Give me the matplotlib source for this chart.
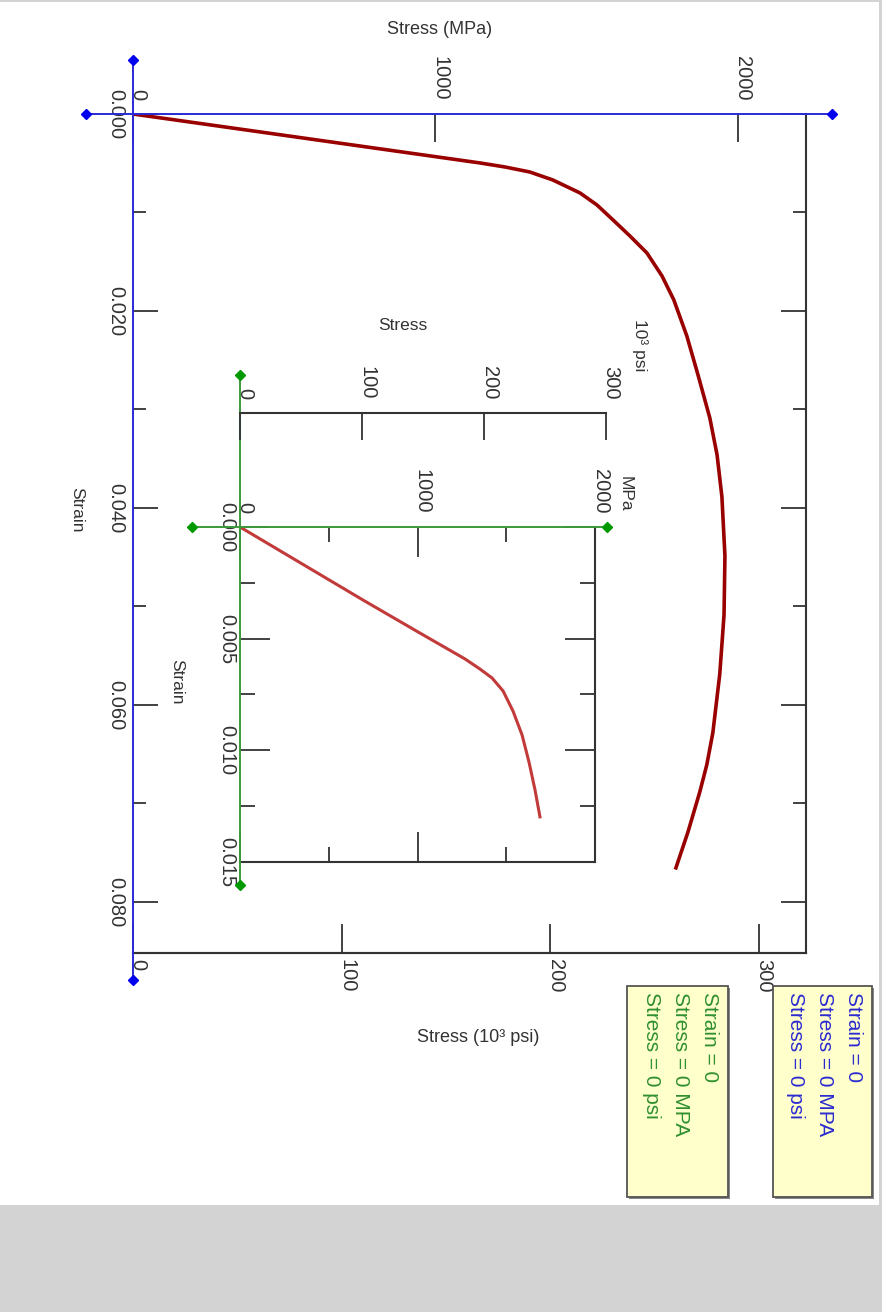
import matplotlib.pyplot as plt
from matplotlib import ticker, transforms
from matplotlib.patches import Rectangle

plt.rcParams['font.family'] = ['Liberation Sans', 'DejaVu Sans']

# full test: strain vs stress (MPa)
strain = [0.0, 0.00497, 0.00538, 0.00589, 0.00670, 0.00802, 0.00924, 0.01076,
          0.01239, 0.01411, 0.01645, 0.01888, 0.02254, 0.02650, 0.03086,
          0.03462, 0.03888, 0.04487, 0.05086, 0.05685, 0.06284, 0.06609,
          0.06883, 0.07289, 0.07655]
stress_mpa = [0, 1147, 1230, 1312, 1388, 1478, 1534, 1587,
              1643, 1699, 1749, 1788, 1831, 1868, 1907,
              1931, 1947, 1957, 1954, 1940, 1917, 1897,
              1874, 1835, 1795]

# zoomed view of the start of the test
strain_small = [0.0, 0.00327, 0.00475, 0.00591, 0.00636, 0.00676, 0.00734,
                0.00824, 0.00931, 0.01052, 0.01177, 0.01298]
stress_small = [0, 693, 1014, 1268, 1352, 1420, 1482,
                1538, 1589, 1628, 1662, 1690]

strain_ticks = [0.0, 0.02, 0.04, 0.06, 0.08]
strain_ticks_small = [0.0, 0.005, 0.010, 0.015]
mpa_ticks = [0, 1000, 2000]
mpa_minor_small = [500, 1500]
psi_ticks = [0, 100, 200, 300]

# cursor readouts
cursor_strain = 0.0
cursor_stress = 0.0
readout = ['Strain = 0', 'Stress = 0 MPA', 'Stress = 0 psi']

MPA_PER_KSI = 6.894757
W, H = 882, 1312
INK = '#333333'
PT = 0.72  # points per pixel at 100 dpi


def rect(x0, y0, x1, y1):
    # pixel box, origin top-left -> figure fraction
    return [x0 / W, 1 - y1 / H, (x1 - x0) / W, (y1 - y0) / H]


def px(x, y):
    return x / W, 1 - y / H


fig = plt.figure(figsize=(W / 100, H / 100), dpi=100, facecolor='#d3d3d3')
fig.patches.append(Rectangle(px(0, 1205), 879 / W, 1203 / H, transform=fig.transFigure,
                             fc='white', ec='none', zorder=-5))

# ---------------- main chart ----------------
ax = fig.add_axes(rect(133, 114, 806, 953))
ax.set_xlim(0, 2225)
ax.set_ylim(0.0852, 0)
ax.plot(stress_mpa, strain, color='#990000', lw=2.6, zorder=3)

for s in ['top', 'left']:
    ax.spines[s].set_visible(False)
for s in ['right', 'bottom']:
    ax.spines[s].set_color(INK)
    ax.spines[s].set_linewidth(1.5)

ax.xaxis.tick_top()
ax.set_xticks(mpa_ticks)
ax.tick_params(axis='x', direction='in', length=28 * PT, width=1.3, color=INK,
               top=True, bottom=False, labeltop=True, labelbottom=False,
               labelrotation=-90, labelsize=14.5, labelcolor=INK, pad=10)
ax.set_yticks(strain_ticks)
ax.yaxis.set_minor_locator(ticker.MultipleLocator(0.01))
ax.yaxis.set_major_formatter(ticker.FormatStrFormatter('%.3f'))
ax.tick_params(axis='y', which='both', direction='in', width=1.3, color=INK,
               left=True, right=True, labelleft=True, labelrotation=-90,
               labelsize=14.5, labelcolor=INK, pad=5.5)
ax.tick_params(axis='y', which='major', length=25 * PT)
ax.tick_params(axis='y', which='minor', length=13 * PT)

secax = ax.secondary_xaxis('bottom', functions=(lambda m: m / MPA_PER_KSI,
                                                 lambda k: k * MPA_PER_KSI))
secax.set_xticks(psi_ticks)
secax.spines['bottom'].set_color(INK)
secax.spines['bottom'].set_linewidth(1.5)
secax.tick_params(direction='in', length=29 * PT, width=1.3, color=INK,
                  labelrotation=-90, labelsize=14.5, labelcolor=INK, pad=4)

ax.axhline(cursor_strain, xmin=-0.0698, xmax=1.0386, color='#2a2ad6', lw=1.4,
           marker='D', ms=5.5, mfc='#0000ee', mec='#0000ee', clip_on=False, zorder=4)
ax.axvline(cursor_stress, ymin=-0.0322, ymax=1.0644, color='#2a2ad6', lw=1.4,
           marker='D', ms=5.5, mfc='#0000ee', mec='#0000ee', clip_on=False, zorder=4)

# ---------------- inset ----------------
ax2 = fig.add_axes(rect(240, 527, 595, 862))
ax2.set_xlim(0, 2000)
ax2.set_ylim(0.015, 0)
ax2.patch.set_alpha(0)
ax2.plot(stress_small, strain_small, color='#c23a3a', lw=2.2, zorder=3)
for s in ['top', 'left']:
    ax2.spines[s].set_visible(False)
for s in ['right', 'bottom']:
    ax2.spines[s].set_color(INK)
    ax2.spines[s].set_linewidth(1.5)

ax2.set_xticks(mpa_ticks)
ax2.set_xticks(mpa_minor_small, minor=True)
ax2.tick_params(axis='x', which='both', direction='in', width=1.3, color=INK,
                top=True, bottom=True, labeltop=True, labelbottom=False,
                labelrotation=-90, labelsize=14.5, labelcolor=INK, pad=10)
ax2.tick_params(axis='x', which='major', length=30 * PT)
ax2.tick_params(axis='x', which='minor', length=15 * PT)
ax2.set_yticks(strain_ticks_small)
ax2.yaxis.set_minor_locator(ticker.MultipleLocator(0.0025))
ax2.yaxis.set_major_formatter(ticker.FormatStrFormatter('%.3f'))
ax2.tick_params(axis='y', which='both', direction='in', width=1.3, color=INK,
                left=True, right=True, labelleft=True, labelrotation=-90,
                labelsize=14.5, labelcolor=INK, pad=3)
ax2.tick_params(axis='y', which='major', length=30 * PT)
ax2.tick_params(axis='y', which='minor', length=15 * PT)

# psi scale of the inset, drawn above it
ax3 = fig.add_axes([240 / W, 1 - 413 / H - 0.0005, 366 / W, 0.0005])
ax3.set_xlim(0, 300)
ax3.patch.set_visible(False)
for s in ['left', 'right', 'bottom']:
    ax3.spines[s].set_visible(False)
ax3.spines['top'].set_color(INK)
ax3.spines['top'].set_linewidth(1.5)
ax3.set_yticks([])
ax3.xaxis.tick_top()
ax3.set_xticks(psi_ticks)
ax3.tick_params(axis='x', direction='in', length=27 * PT, width=1.3, color=INK,
                labelrotation=-90, labelsize=14.5, labelcolor=INK, pad=10)

ax2.axhline(cursor_strain, xmin=-0.135, xmax=1.034, color='#3c9a3c', lw=1.4,
            marker='D', ms=5, mfc='#009900', mec='#009900', clip_on=False, zorder=4)
ax2.axvline(cursor_stress, ymin=-0.0687, ymax=1.4537, color='#3c9a3c', lw=1.4,
            marker='D', ms=5, mfc='#009900', mec='#009900', clip_on=False, zorder=4)

# align rotated tick labels
shift = transforms.ScaledTranslation(5 / 100, 0, fig.dpi_scale_trans)
for a in [ax, ax2, ax3, secax]:
    for lab in a.get_xticklabels():
        lab.set_ha('center')
        lab.set_transform(lab.get_transform() + shift)
for a in [ax, ax2]:
    for lab in a.get_yticklabels():
        lab.set_ha('right')
        lab.set_va('center')

# ---------------- axis titles ----------------
fig.text(*px(440, 30), 'Stress (MPa)', ha='center', va='center', fontsize=13, color=INK)
fig.text(*px(77, 510), 'Strain', ha='center', va='center', rotation=-90, fontsize=12.5, color=INK)
fig.text(*px(478, 1038), 'Stress (10³ psi)', ha='center', va='center', fontsize=13, color=INK)
fig.text(*px(403, 325), 'Stress', ha='center', va='center', fontsize=12.5, color=INK)
fig.text(*px(640, 345), '10³ psi', ha='center', va='center', rotation=-90, fontsize=12.5, color=INK)
fig.text(*px(625, 494), 'MPa', ha='center', va='center', rotation=-90, fontsize=12.5, color=INK)
fig.text(*px(177, 682), 'Strain', ha='center', va='center', rotation=-90, fontsize=12.5, color=INK)

# ---------------- readout boxes ----------------
for (x0, x1), col in [((773, 872), '#2a2ad0'), ((627, 728), '#2f8f2f')]:
    fig.patches.append(Rectangle(px(x0 + 2, 1199), (x1 - x0) / W, 211 / H,
                                 transform=fig.transFigure, fc='#888888', ec='none', zorder=1))
    fig.patches.append(Rectangle(px(x0, 1197), (x1 - x0) / W, 211 / H,
                                 transform=fig.transFigure, fc='#ffffcc', ec='#555555',
                                 lw=1.3, zorder=2))
    fig.text(*px(x1 - 9, 992), '\n'.join(readout), ha='right', va='top', ma='left',
             rotation=-90, fontsize=15, color=col, linespacing=1.65, zorder=3)

fig.savefig('out.png', dpi=100, facecolor=fig.get_facecolor())
